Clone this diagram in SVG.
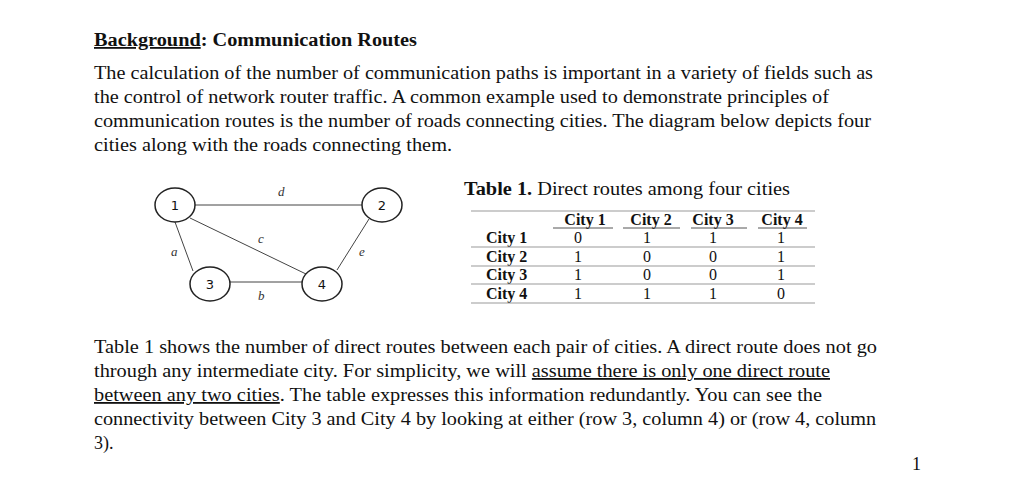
<svg xmlns="http://www.w3.org/2000/svg" width="1024" height="478" viewBox="0 0 1024 478">
<style>
text{font-family:"Liberation Serif",serif;fill:#111}
.p{font-size:18px}
.b{font-weight:bold}
.n{fill:#fff;stroke:#222;stroke-width:1.5}
.nl{font-family:"DejaVu Sans",sans-serif;font-size:13px;text-anchor:middle}
.el{font-style:italic;font-size:13px;fill:#333}
.t{font-size:16px}
.c{text-anchor:middle}
.rl{stroke:#999;stroke-width:1}
.ul{stroke:#555;stroke-width:1}
</style>
<rect width="1024" height="478" fill="#fff"/>
<text x="94" y="46" class="p b" textLength="323" lengthAdjust="spacingAndGlyphs"><tspan text-decoration="underline">Background</tspan>: Communication Routes</text>
<text class="p" x="94" y="79" textLength="779" lengthAdjust="spacingAndGlyphs">The calculation of the number of communication paths is important in a variety of fields such as</text>
<text class="p" x="94" y="103" textLength="735" lengthAdjust="spacingAndGlyphs">the control of network router traffic. A common example used to demonstrate principles of</text>
<text class="p" x="94" y="127" textLength="777" lengthAdjust="spacingAndGlyphs">communication routes is the number of roads connecting cities. The diagram below depicts four</text>
<text class="p" x="94" y="151" textLength="358" lengthAdjust="spacingAndGlyphs">cities along with the roads connecting them.</text>
<g id="connectors" stroke="#444" stroke-width="1">
<line x1="195" y1="205" x2="362" y2="205"/>
<line x1="175" y1="222" x2="193" y2="271"/>
<line x1="190" y1="218" x2="306" y2="274"/>
<line x1="369" y1="219" x2="337" y2="270"/>
<line x1="230" y1="282" x2="302" y2="282"/>
</g>
<text class="el" x="278" y="196">d</text>
<text class="el" x="171" y="256">a</text>
<text class="el" x="258" y="243">c</text>
<text class="el" x="359" y="256">e</text>
<text class="el" x="258" y="300">b</text>
<g id="n1"><ellipse class="n" cx="175" cy="205" rx="20" ry="17"/><text class="nl" x="175" y="210">1</text></g>
<g id="n2"><ellipse class="n" cx="382" cy="205" rx="20" ry="17"/><text class="nl" x="382" y="210">2</text></g>
<g id="n3"><ellipse class="n" cx="210" cy="284" rx="20" ry="17"/><text class="nl" x="210" y="289">3</text></g>
<g id="n4"><ellipse class="n" cx="322" cy="284" rx="20" ry="17"/><text class="nl" x="322" y="289">4</text></g>
<g id="table">
<text x="464" y="195" style="font-size:18px" textLength="326" lengthAdjust="spacingAndGlyphs"><tspan class="b">Table 1.</tspan> Direct routes among four cities</text>
<line class="rl" x1="471" y1="211" x2="815" y2="211"/>
<g class="t b">
<text class="c" x="585" y="225">City 1</text><text class="c" x="651" y="225">City 2</text><text class="c" x="713" y="225">City 3</text><text class="c" x="782" y="225">City 4</text>
<text x="486" y="243">City 1</text><text x="486" y="262">City 2</text><text x="486" y="280">City 3</text><text x="486" y="299">City 4</text>
</g>
<line class="ul" x1="553" y1="228" x2="613" y2="228"/><line class="ul" x1="623" y1="228" x2="680" y2="228"/><line class="ul" x1="691" y1="228" x2="747" y2="228"/><line class="ul" x1="758" y1="228" x2="807" y2="228"/>
<g class="t">
<text class="c" x="578" y="243">0</text><text class="c" x="647" y="243">1</text><text class="c" x="713" y="243">1</text><text class="c" x="781" y="243">1</text>
<text class="c" x="578" y="262">1</text><text class="c" x="647" y="262">0</text><text class="c" x="713" y="262">0</text><text class="c" x="781" y="262">1</text>
<text class="c" x="578" y="280">1</text><text class="c" x="647" y="280">0</text><text class="c" x="713" y="280">0</text><text class="c" x="781" y="280">1</text>
<text class="c" x="578" y="299">1</text><text class="c" x="647" y="299">1</text><text class="c" x="713" y="299">1</text><text class="c" x="781" y="299">0</text>
</g>
<line class="rl" x1="471" y1="247" x2="815" y2="247"/>
<line class="rl" x1="471" y1="266" x2="815" y2="266"/>
<line class="rl" x1="471" y1="284" x2="815" y2="284"/>
<line class="rl" x1="471" y1="303" x2="815" y2="303"/>
</g>
<text class="p" x="94" y="353" textLength="783" lengthAdjust="spacingAndGlyphs">Table 1 shows the number of direct routes between each pair of cities. A direct route does not go</text>
<text class="p" x="94" y="377" textLength="736" lengthAdjust="spacingAndGlyphs">through any intermediate city. For simplicity, we will <tspan text-decoration="underline">assume there is only one direct route</tspan></text>
<text class="p" x="94" y="401" textLength="728" lengthAdjust="spacingAndGlyphs"><tspan text-decoration="underline">between any two cities</tspan>. The table expresses this information redundantly. You can see the</text>
<text class="p" x="94" y="425" textLength="782" lengthAdjust="spacingAndGlyphs">connectivity between City 3 and City 4 by looking at either (row 3, column 4) or (row 4, column</text>
<text class="p" x="94" y="449">3).</text>
<text class="p" x="912" y="470">1</text>
</svg>
